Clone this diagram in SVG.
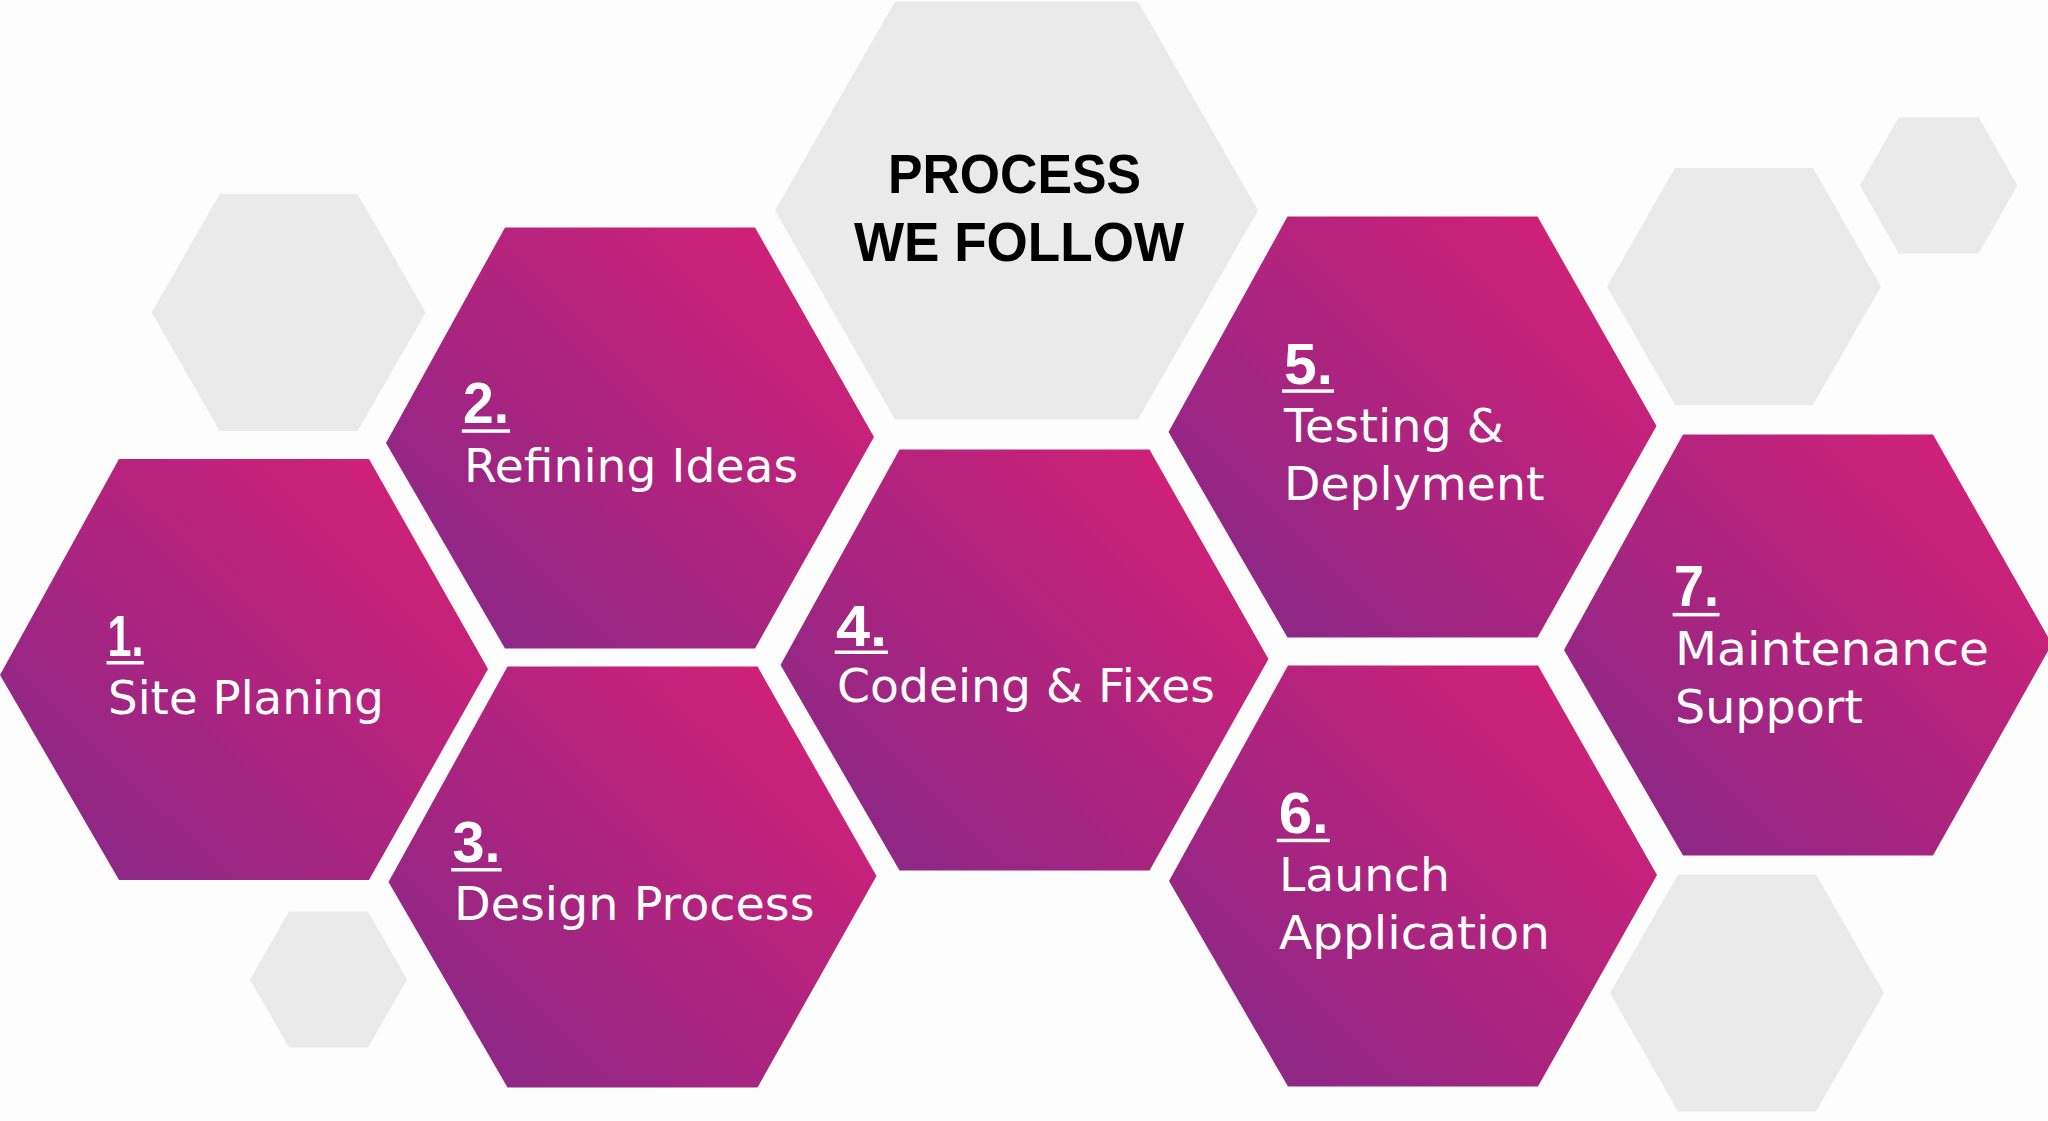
<svg xmlns="http://www.w3.org/2000/svg" width="2048" height="1121" viewBox="0 0 2048 1121">
<defs>
<linearGradient id="pg" x1="0.1" y1="0.9" x2="0.9" y2="0.2">
<stop offset="0" stop-color="#8B2886"/>
<stop offset="1" stop-color="#CD2179"/>
</linearGradient>
<style>
.bg{fill:#FDFDFD}
.gray{fill:#EAEAEA}
.hex{fill:url(#pg)}
.title{font-family:"Liberation Sans",Arial,sans-serif;font-weight:bold;font-size:55px;fill:#000}
.num{font-family:"Liberation Sans",Arial,sans-serif;font-weight:bold;font-size:58px;fill:#fff}
.lbl{font-family:"DejaVu Sans","Liberation Sans",sans-serif;font-size:46px;fill:#fff}
.ul{fill:#fff}
</style>
</defs>
<rect class="bg" x="0" y="0" width="2048" height="1121"/>

<g id="deco">
<polygon class="gray" points="151.7,312.5 219.7,194 357.7,194 425.7,312.5 357.7,431 219.7,431"/>
<polygon class="gray" points="1607,286.5 1675,168 1813,168 1881,286.5 1813,405 1675,405"/>
<polygon class="gray" points="1610,993 1678,874.5 1816,874.5 1884,993 1816,1111.5 1678,1111.5"/>
<polygon class="gray" points="1860,185.4 1898.7,117.2 1978.7,117.2 2017.4,185.4 1978.7,253.6 1898.7,253.6"/>
<polygon class="gray" points="250,979.5 289,911.5 368,911.5 407,979.5 368,1047.5 289,1047.5"/>
</g>

<g id="title">
<polygon class="gray" points="775,210.5 895,1.5 1138,1.5 1258,210.5 1138,419.5 895,419.5"/>
<text class="title" x="888" y="193" textLength="253" lengthAdjust="spacingAndGlyphs">PROCESS</text>
<text class="title" x="854" y="261" textLength="330" lengthAdjust="spacingAndGlyphs">WE FOLLOW</text>
</g>

<g id="step1">
<polygon class="hex" points="0,675 119,459 369,459 488,669 369,880 119,880"/>
<text class="num" x="107.5" y="656" textLength="36" lengthAdjust="spacingAndGlyphs">1.</text>
<rect class="ul" x="106.5" y="661" width="37.2" height="3.5"/>
<text class="lbl" x="108" y="714" textLength="276" lengthAdjust="spacingAndGlyphs">Site Planing</text>
</g>

<g id="step2">
<polygon class="hex" points="386,443 505,227.5 755,227.5 874,437 755,648.5 505,648.5"/>
<text class="num" x="463" y="423" textLength="46" lengthAdjust="spacingAndGlyphs">2.</text>
<rect class="ul" x="461.8" y="429.3" width="48.2" height="3.5"/>
<text class="lbl" x="464" y="482" textLength="334" lengthAdjust="spacingAndGlyphs">Refining Ideas</text>
</g>

<g id="step3">
<polygon class="hex" points="388.5,882 507.5,666.5 757.5,666.5 876.5,876 757.5,1087.5 507.5,1087.5"/>
<text class="num" x="452.5" y="862.3" textLength="48" lengthAdjust="spacingAndGlyphs">3.</text>
<rect class="ul" x="451.3" y="868" width="50.3" height="3.5"/>
<text class="lbl" x="454" y="919.6" textLength="360.5" lengthAdjust="spacingAndGlyphs">Design Process</text>
</g>

<g id="step4">
<polygon class="hex" points="780.5,665 899.5,449.5 1149.5,449.5 1268.5,659 1149.5,870.5 899.5,870.5"/>
<text class="num" x="836" y="646" textLength="51" lengthAdjust="spacingAndGlyphs">4.</text>
<rect class="ul" x="834.7" y="650.5" width="53.3" height="3.5"/>
<text class="lbl" x="837" y="702.4" textLength="378" lengthAdjust="spacingAndGlyphs">Codeing &amp; Fixes</text>
</g>

<g id="step5">
<polygon class="hex" points="1168.5,432 1287.5,216.5 1537.5,216.5 1656.5,426 1537.5,637.5 1287.5,637.5"/>
<text class="num" x="1284" y="384" textLength="49" lengthAdjust="spacingAndGlyphs">5.</text>
<rect class="ul" x="1282" y="389.3" width="52" height="3.5"/>
<text class="lbl" x="1284" y="441.8" textLength="220" lengthAdjust="spacingAndGlyphs">Testing &amp;</text>
<text class="lbl" x="1284" y="500" textLength="260.5" lengthAdjust="spacingAndGlyphs">Deplyment</text>
</g>

<g id="step6">
<polygon class="hex" points="1169,881 1288,665.5 1538,665.5 1657,875 1538,1086.5 1288,1086.5"/>
<text class="num" x="1278.7" y="833.2" textLength="50" lengthAdjust="spacingAndGlyphs">6.</text>
<rect class="ul" x="1276.8" y="838.7" width="52.9" height="3.5"/>
<text class="lbl" x="1279" y="891" textLength="171" lengthAdjust="spacingAndGlyphs">Launch</text>
<text class="lbl" x="1279" y="949.3" textLength="271" lengthAdjust="spacingAndGlyphs">Application</text>
</g>

<g id="step7">
<polygon class="hex" points="1564,650 1683,434.5 1933,434.5 2052,644 1933,855.5 1683,855.5"/>
<text class="num" x="1674" y="606.4" textLength="45" lengthAdjust="spacingAndGlyphs">7.</text>
<rect class="ul" x="1672.6" y="612.9" width="46.9" height="3.5"/>
<text class="lbl" x="1675" y="664.6" textLength="314" lengthAdjust="spacingAndGlyphs">Maintenance</text>
<text class="lbl" x="1675" y="723.2" textLength="188" lengthAdjust="spacingAndGlyphs">Support</text>
</g>

<g id="connectors"></g>
</svg>
